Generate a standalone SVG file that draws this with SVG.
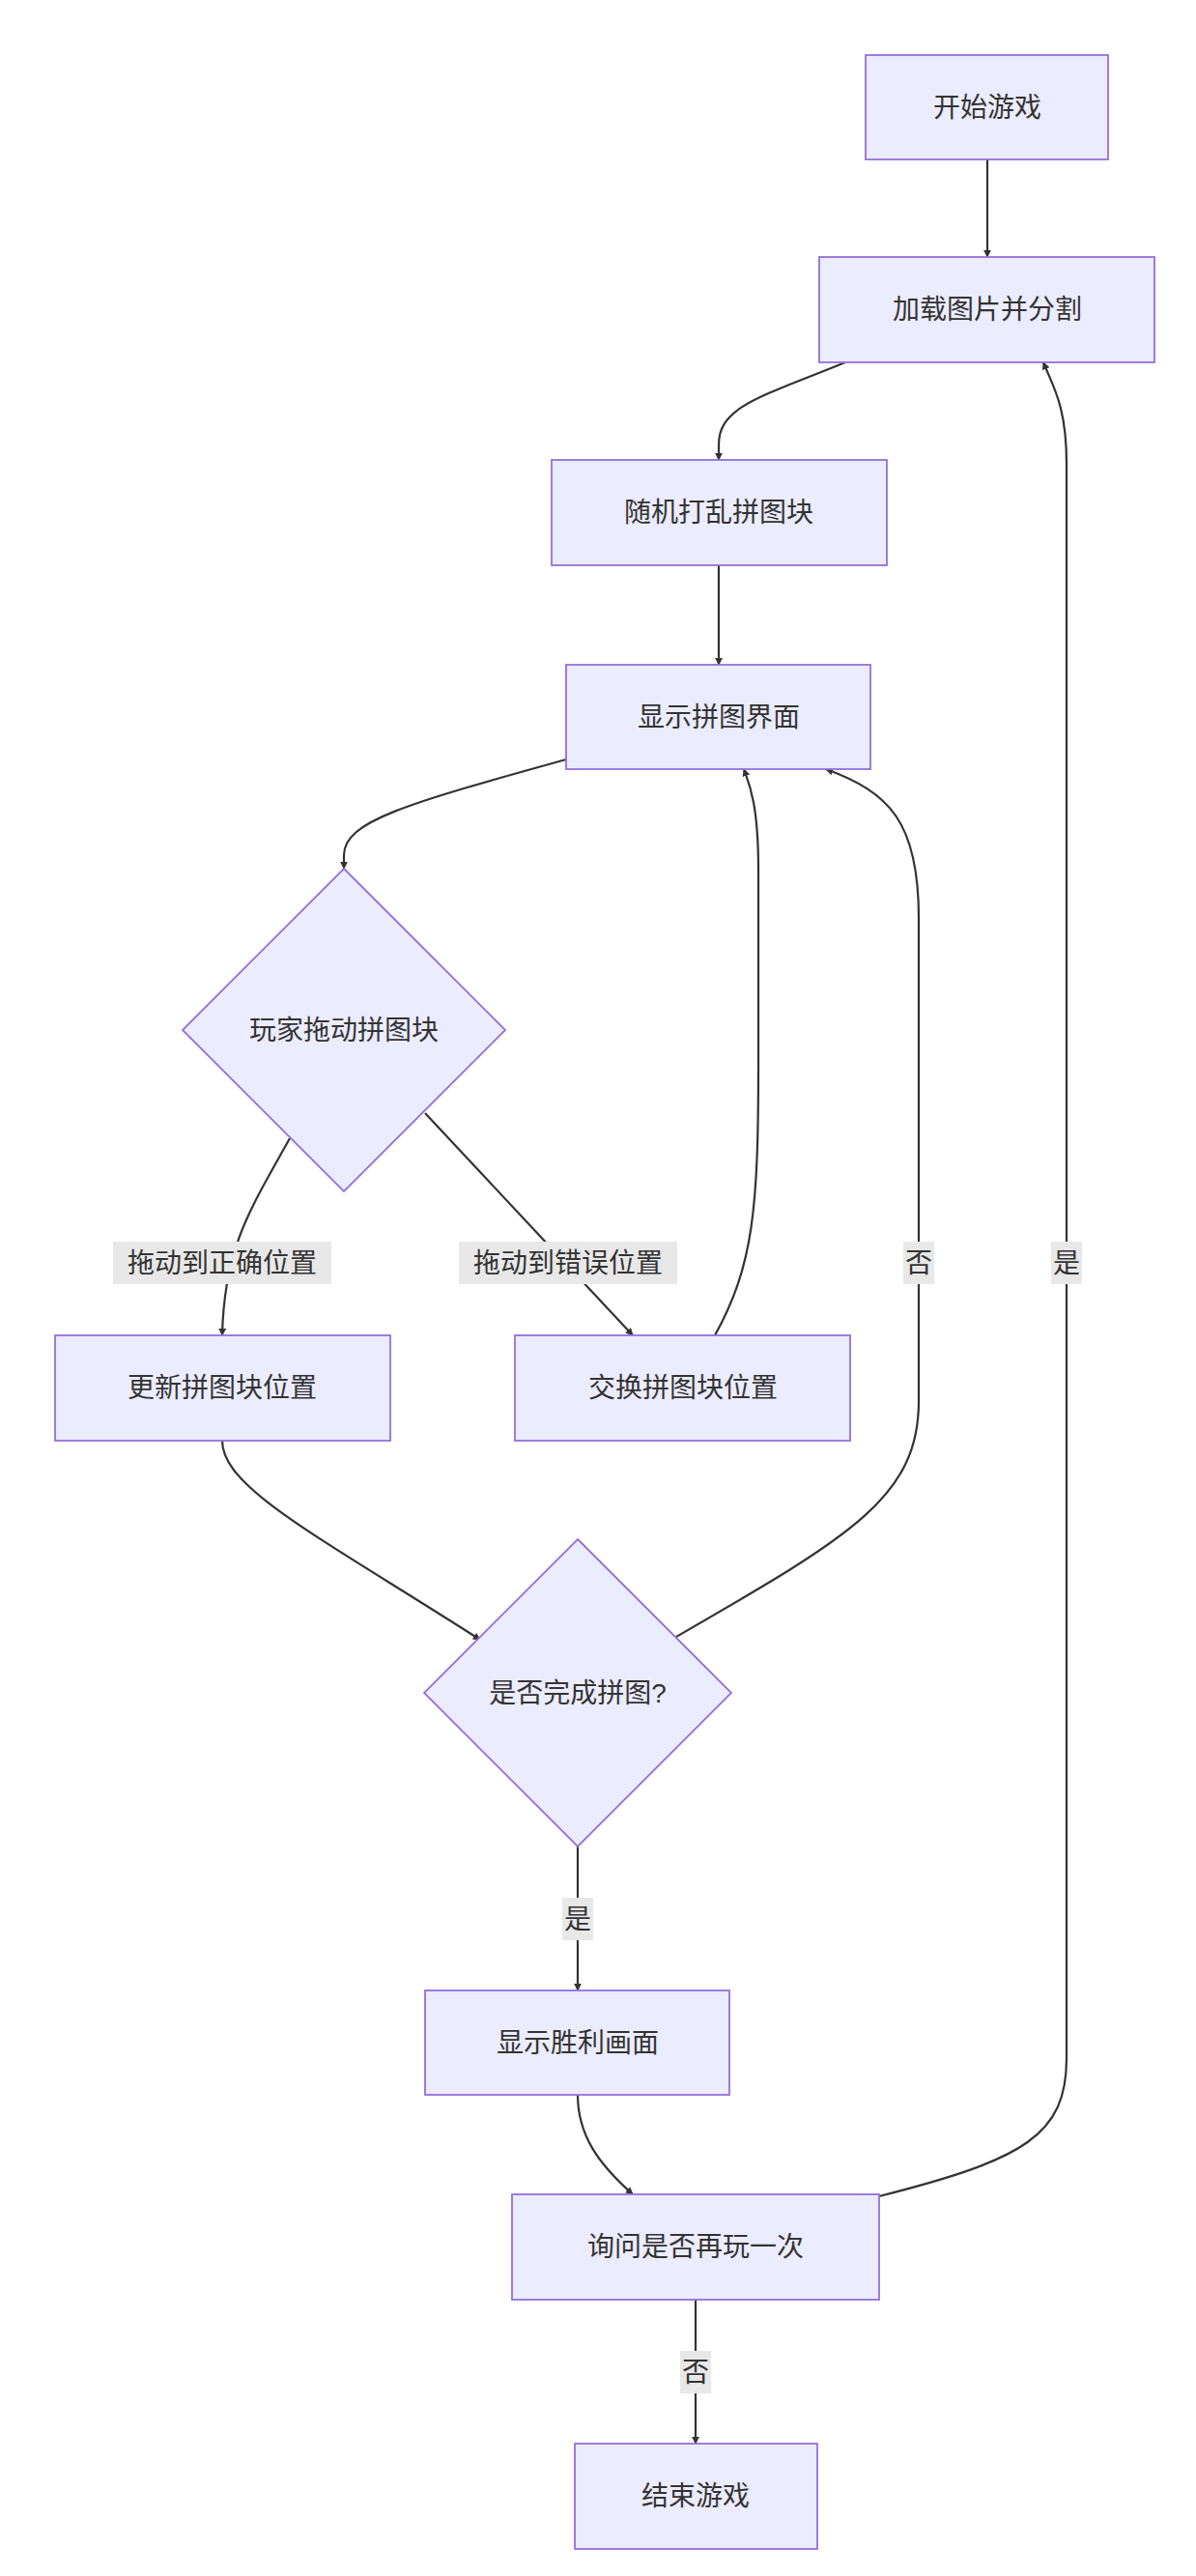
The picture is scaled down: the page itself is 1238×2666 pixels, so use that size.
<svg xmlns="http://www.w3.org/2000/svg" width="1238" height="2666" viewBox="0 0 1238 2666">
<style>
.n{fill:#ECECFF;stroke:#9370DB;stroke-width:1.8}
.t{font-family:"Liberation Sans","Noto Sans CJK SC",sans-serif;font-size:28px;fill:#333;text-anchor:middle;dominant-baseline:central}
.e{fill:none;stroke:#333;stroke-width:2.2;marker-end:url(#a)}
.lb{fill:#e8e8e8}
</style>
<defs><marker id="a" viewBox="0 0 10 10" refX="9" refY="5" markerWidth="8" markerHeight="8" orient="auto" markerUnits="userSpaceOnUse" ><path d="M0,0L10,5L0,10z" fill="#333"/></marker></defs>
<rect width="1238" height="2666" fill="#fff"/>
<g id="edges">
<path class="e" d="M1022,165L1022,266"/>
<path class="e" d="M875,375C790,410 744,420 744,460L744,476"/>
<path class="e" d="M744,585L744,688"/>
<path class="e" d="M586,786C420,832 356,850 356,885L356,899"/>
<path class="e" d="M300,1178C260,1250 232,1290 230,1382"/>
<path class="e" d="M440,1152L655,1382"/>
<path class="e" d="M740,1382C780,1310 785,1250 785,1100L785,900C785,830 775,810 770,796"/>
<path class="e" d="M230,1491C230,1540 330,1590 497,1697"/>
<path class="e" d="M700,1694C880,1590 951,1550 951,1450L951,950C951,850 920,820 855,796"/>
<path class="e" d="M598,1911L598,2060"/>
<path class="e" d="M598,2168C598,2210 620,2240 655,2271"/>
<path class="e" d="M910,2273C1060,2235 1104,2210 1104,2130L1104,480C1104,420 1090,400 1080,375"/>
<path class="e" d="M720,2380L720,2529"/>
</g>
<g id="labels">
<rect class="lb" x="117" y="1285" width="226" height="44"/><text class="t" x="230" y="1307">拖动到正确位置</text>
<rect class="lb" x="475" y="1285" width="226" height="44"/><text class="t" x="588" y="1307">拖动到错误位置</text>
<rect class="lb" x="935" y="1285" width="32" height="44"/><text class="t" x="951" y="1307">否</text>
<rect class="lb" x="1088" y="1285" width="32" height="44"/><text class="t" x="1104" y="1307">是</text>
<rect class="lb" x="582" y="1964" width="32" height="44"/><text class="t" x="598" y="1986">是</text>
<rect class="lb" x="704" y="2433" width="32" height="44"/><text class="t" x="720" y="2455">否</text>
</g>
<g id="n1"><rect class="n" x="896" y="57" width="251" height="108"/><text class="t" x="1022" y="111">开始游戏</text></g>
<g id="n2"><rect class="n" x="848" y="266" width="347" height="109"/><text class="t" x="1022" y="320">加载图片并分割</text></g>
<g id="n3"><rect class="n" x="571" y="476" width="347" height="109"/><text class="t" x="744" y="530">随机打乱拼图块</text></g>
<g id="n4"><rect class="n" x="586" y="688" width="315" height="108"/><text class="t" x="744" y="742">显示拼图界面</text></g>
<g id="n5"><polygon class="n" points="356,899 523,1066 356,1233 189,1066"/><text class="t" x="356" y="1066">玩家拖动拼图块</text></g>
<g id="n6"><rect class="n" x="57" y="1382" width="347" height="109"/><text class="t" x="230" y="1436">更新拼图块位置</text></g>
<g id="n7"><rect class="n" x="533" y="1382" width="347" height="109"/><text class="t" x="707" y="1436">交换拼图块位置</text></g>
<g id="n8"><polygon class="n" points="598,1593 757,1752 598,1911 439,1752"/><text class="t" x="598" y="1752">是否完成拼图?</text></g>
<g id="n9"><rect class="n" x="440" y="2060" width="315" height="108"/><text class="t" x="598" y="2114">显示胜利画面</text></g>
<g id="n10"><rect class="n" x="530" y="2271" width="380" height="109"/><text class="t" x="720" y="2325">询问是否再玩一次</text></g>
<g id="n11"><rect class="n" x="595" y="2529" width="251" height="109"/><text class="t" x="720" y="2583">结束游戏</text></g>
</svg>
